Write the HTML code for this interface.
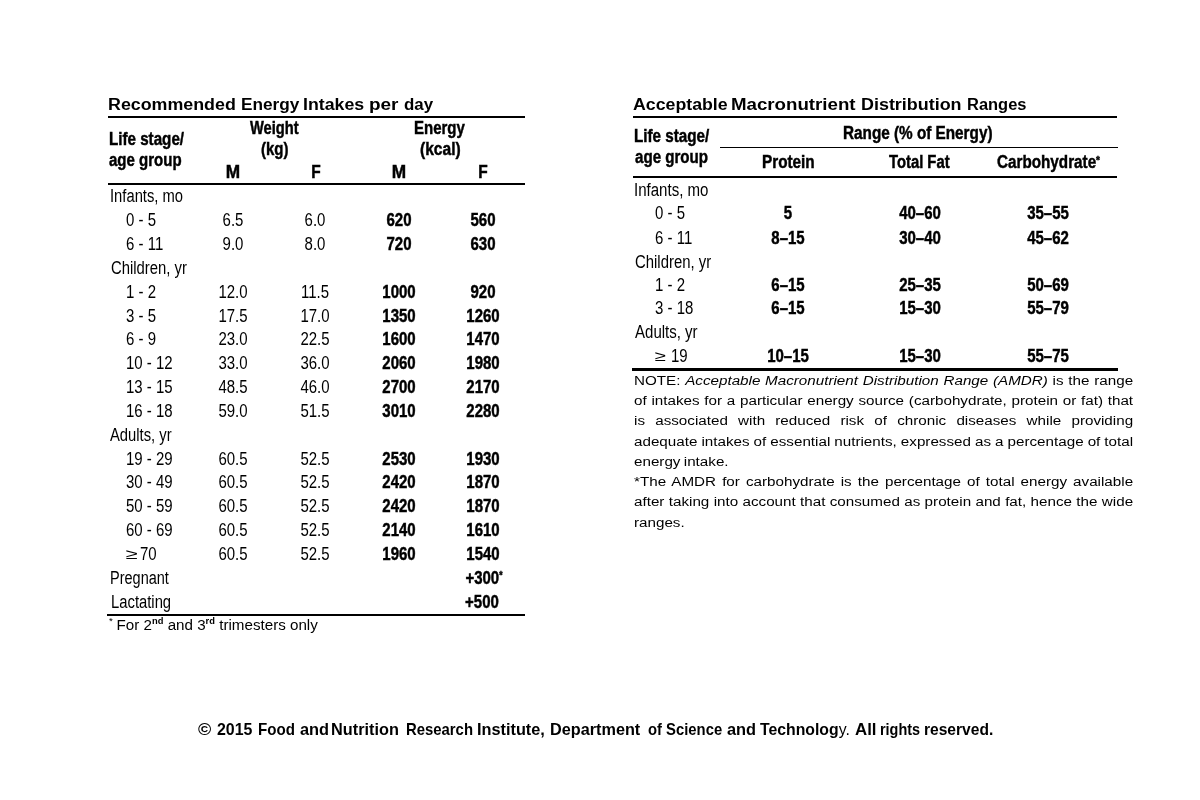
<!DOCTYPE html>
<html><head><meta charset="utf-8"><title>Recommended Energy Intakes</title>
<style>
html,body{margin:0;padding:0;background:#fff;}
body{width:1200px;height:800px;position:relative;overflow:hidden;font-family:"Liberation Sans",sans-serif;color:#000;}
#pg{position:absolute;left:0;top:0;width:1200px;height:800px;will-change:transform;}
.t{position:absolute;white-space:nowrap;}
.r{position:absolute;background:#000;}
.sup{font-size:8.5px;position:relative;top:-5.5px;font-weight:700;}
</style></head>
<body>
<div id="pg">
<div class="t" style="left:107.68px;top:94.56px;width:600px;font-size:16.0px;line-height:20.8px;text-align:left;transform:scaleX(1.1143);transform-origin:0 50%;font-weight:700;">Recommended</div>
<div class="t" style="left:240.91px;top:94.56px;width:600px;font-size:16.0px;line-height:20.8px;text-align:left;transform:scaleX(1.0766);transform-origin:0 50%;font-weight:700;">Energy</div>
<div class="t" style="left:302.68px;top:94.56px;width:600px;font-size:16.0px;line-height:20.8px;text-align:left;transform:scaleX(1.1083);transform-origin:0 50%;font-weight:700;">Intakes</div>
<div class="t" style="left:369.15px;top:94.56px;width:600px;font-size:16.0px;line-height:20.8px;text-align:left;transform:scaleX(1.1844);transform-origin:0 50%;font-weight:700;">per</div>
<div class="t" style="left:403.67px;top:94.56px;width:600px;font-size:16.0px;line-height:20.8px;text-align:left;transform:scaleX(1.0554);transform-origin:0 50%;font-weight:700;">day</div>
<div class="r" style="left:108px;top:115.9px;width:417.00px;height:2.5px"></div>
<div class="r" style="left:108px;top:182.8px;width:417.00px;height:2.4px"></div>
<div class="r" style="left:107px;top:613.6px;width:418.00px;height:2.4px"></div>
<div class="t" style="left:108.93px;top:127.96px;width:600px;font-size:17.6px;line-height:22.88px;text-align:left;transform:scaleX(0.8623);transform-origin:0 50%;font-weight:700;-webkit-text-stroke:0.45px #000;">Life stage/</div>
<div class="t" style="left:108.85px;top:148.96px;width:600px;font-size:17.6px;line-height:22.88px;text-align:left;transform:scaleX(0.8533);transform-origin:0 50%;font-weight:700;-webkit-text-stroke:0.45px #000;">age group</div>
<div class="t" style="left:249.58px;top:116.96px;width:600px;font-size:17.6px;line-height:22.88px;text-align:left;transform:scaleX(0.8342);transform-origin:0 50%;font-weight:700;-webkit-text-stroke:0.45px #000;">Weight</div>
<div class="t" style="left:261.35px;top:137.96px;width:600px;font-size:17.6px;line-height:22.88px;text-align:left;transform:scaleX(0.8503);transform-origin:0 50%;font-weight:700;-webkit-text-stroke:0.45px #000;">(kg)</div>
<div class="t" style="left:414.38px;top:116.96px;width:600px;font-size:17.6px;line-height:22.88px;text-align:left;transform:scaleX(0.8529);transform-origin:0 50%;font-weight:700;-webkit-text-stroke:0.45px #000;">Energy</div>
<div class="t" style="left:420.08px;top:137.96px;width:600px;font-size:17.6px;line-height:22.88px;text-align:left;transform:scaleX(0.8867);transform-origin:0 50%;font-weight:700;-webkit-text-stroke:0.45px #000;">(kcal)</div>
<div class="t" style="left:-67.40px;top:160.96px;width:600px;font-size:17.6px;line-height:22.88px;text-align:center;transform:scaleX(0.9800);transform-origin:50% 50%;font-weight:700;-webkit-text-stroke:0.45px #000;">M</div>
<div class="t" style="left:16.20px;top:160.96px;width:600px;font-size:17.6px;line-height:22.88px;text-align:center;transform:scaleX(0.8800);transform-origin:50% 50%;font-weight:700;-webkit-text-stroke:0.45px #000;">F</div>
<div class="t" style="left:99.20px;top:160.96px;width:600px;font-size:17.6px;line-height:22.88px;text-align:center;transform:scaleX(0.9800);transform-origin:50% 50%;font-weight:700;-webkit-text-stroke:0.45px #000;">M</div>
<div class="t" style="left:182.80px;top:160.96px;width:600px;font-size:17.6px;line-height:22.88px;text-align:center;transform:scaleX(0.8800);transform-origin:50% 50%;font-weight:700;-webkit-text-stroke:0.45px #000;">F</div>
<div class="t" style="left:110.04px;top:184.96px;width:600px;font-size:17.6px;line-height:22.88px;text-align:left;transform:scaleX(0.8393);transform-origin:0 50%;">Infants, mo</div>
<div class="t" style="left:126.40px;top:208.96px;width:600px;font-size:17.6px;line-height:22.88px;text-align:left;transform:scaleX(0.8520);transform-origin:0 50%;">0 - 5</div>
<div class="t" style="left:-67.50px;top:208.96px;width:600px;font-size:17.6px;line-height:22.88px;text-align:center;transform:scaleX(0.8520);transform-origin:50% 50%;">6.5</div>
<div class="t" style="left:15.00px;top:208.96px;width:600px;font-size:17.6px;line-height:22.88px;text-align:center;transform:scaleX(0.8520);transform-origin:50% 50%;">6.0</div>
<div class="t" style="left:98.90px;top:208.96px;width:600px;font-size:17.6px;line-height:22.88px;text-align:center;transform:scaleX(0.8520);transform-origin:50% 50%;font-weight:700;-webkit-text-stroke:0.45px #000;">620</div>
<div class="t" style="left:182.60px;top:208.96px;width:600px;font-size:17.6px;line-height:22.88px;text-align:center;transform:scaleX(0.8520);transform-origin:50% 50%;font-weight:700;-webkit-text-stroke:0.45px #000;">560</div>
<div class="t" style="left:126.40px;top:232.96px;width:600px;font-size:17.6px;line-height:22.88px;text-align:left;transform:scaleX(0.8520);transform-origin:0 50%;">6 - 11</div>
<div class="t" style="left:-67.50px;top:232.96px;width:600px;font-size:17.6px;line-height:22.88px;text-align:center;transform:scaleX(0.8520);transform-origin:50% 50%;">9.0</div>
<div class="t" style="left:15.00px;top:232.96px;width:600px;font-size:17.6px;line-height:22.88px;text-align:center;transform:scaleX(0.8520);transform-origin:50% 50%;">8.0</div>
<div class="t" style="left:98.90px;top:232.96px;width:600px;font-size:17.6px;line-height:22.88px;text-align:center;transform:scaleX(0.8520);transform-origin:50% 50%;font-weight:700;-webkit-text-stroke:0.45px #000;">720</div>
<div class="t" style="left:182.60px;top:232.96px;width:600px;font-size:17.6px;line-height:22.88px;text-align:center;transform:scaleX(0.8520);transform-origin:50% 50%;font-weight:700;-webkit-text-stroke:0.45px #000;">630</div>
<div class="t" style="left:110.67px;top:256.96px;width:600px;font-size:17.6px;line-height:22.88px;text-align:left;transform:scaleX(0.8445);transform-origin:0 50%;">Children, yr</div>
<div class="t" style="left:126.40px;top:280.96px;width:600px;font-size:17.6px;line-height:22.88px;text-align:left;transform:scaleX(0.8520);transform-origin:0 50%;">1 - 2</div>
<div class="t" style="left:-67.50px;top:280.96px;width:600px;font-size:17.6px;line-height:22.88px;text-align:center;transform:scaleX(0.8520);transform-origin:50% 50%;">12.0</div>
<div class="t" style="left:15.00px;top:280.96px;width:600px;font-size:17.6px;line-height:22.88px;text-align:center;transform:scaleX(0.8520);transform-origin:50% 50%;">11.5</div>
<div class="t" style="left:98.90px;top:280.96px;width:600px;font-size:17.6px;line-height:22.88px;text-align:center;transform:scaleX(0.8520);transform-origin:50% 50%;font-weight:700;-webkit-text-stroke:0.45px #000;">1000</div>
<div class="t" style="left:182.60px;top:280.96px;width:600px;font-size:17.6px;line-height:22.88px;text-align:center;transform:scaleX(0.8520);transform-origin:50% 50%;font-weight:700;-webkit-text-stroke:0.45px #000;">920</div>
<div class="t" style="left:126.40px;top:304.96px;width:600px;font-size:17.6px;line-height:22.88px;text-align:left;transform:scaleX(0.8520);transform-origin:0 50%;">3 - 5</div>
<div class="t" style="left:-67.50px;top:304.96px;width:600px;font-size:17.6px;line-height:22.88px;text-align:center;transform:scaleX(0.8520);transform-origin:50% 50%;">17.5</div>
<div class="t" style="left:15.00px;top:304.96px;width:600px;font-size:17.6px;line-height:22.88px;text-align:center;transform:scaleX(0.8520);transform-origin:50% 50%;">17.0</div>
<div class="t" style="left:98.90px;top:304.96px;width:600px;font-size:17.6px;line-height:22.88px;text-align:center;transform:scaleX(0.8520);transform-origin:50% 50%;font-weight:700;-webkit-text-stroke:0.45px #000;">1350</div>
<div class="t" style="left:182.60px;top:304.96px;width:600px;font-size:17.6px;line-height:22.88px;text-align:center;transform:scaleX(0.8520);transform-origin:50% 50%;font-weight:700;-webkit-text-stroke:0.45px #000;">1260</div>
<div class="t" style="left:126.40px;top:327.96px;width:600px;font-size:17.6px;line-height:22.88px;text-align:left;transform:scaleX(0.8520);transform-origin:0 50%;">6 - 9</div>
<div class="t" style="left:-67.50px;top:327.96px;width:600px;font-size:17.6px;line-height:22.88px;text-align:center;transform:scaleX(0.8520);transform-origin:50% 50%;">23.0</div>
<div class="t" style="left:15.00px;top:327.96px;width:600px;font-size:17.6px;line-height:22.88px;text-align:center;transform:scaleX(0.8520);transform-origin:50% 50%;">22.5</div>
<div class="t" style="left:98.90px;top:327.96px;width:600px;font-size:17.6px;line-height:22.88px;text-align:center;transform:scaleX(0.8520);transform-origin:50% 50%;font-weight:700;-webkit-text-stroke:0.45px #000;">1600</div>
<div class="t" style="left:182.60px;top:327.96px;width:600px;font-size:17.6px;line-height:22.88px;text-align:center;transform:scaleX(0.8520);transform-origin:50% 50%;font-weight:700;-webkit-text-stroke:0.45px #000;">1470</div>
<div class="t" style="left:126.40px;top:351.96px;width:600px;font-size:17.6px;line-height:22.88px;text-align:left;transform:scaleX(0.8520);transform-origin:0 50%;">10 - 12</div>
<div class="t" style="left:-67.50px;top:351.96px;width:600px;font-size:17.6px;line-height:22.88px;text-align:center;transform:scaleX(0.8520);transform-origin:50% 50%;">33.0</div>
<div class="t" style="left:15.00px;top:351.96px;width:600px;font-size:17.6px;line-height:22.88px;text-align:center;transform:scaleX(0.8520);transform-origin:50% 50%;">36.0</div>
<div class="t" style="left:98.90px;top:351.96px;width:600px;font-size:17.6px;line-height:22.88px;text-align:center;transform:scaleX(0.8520);transform-origin:50% 50%;font-weight:700;-webkit-text-stroke:0.45px #000;">2060</div>
<div class="t" style="left:182.60px;top:351.96px;width:600px;font-size:17.6px;line-height:22.88px;text-align:center;transform:scaleX(0.8520);transform-origin:50% 50%;font-weight:700;-webkit-text-stroke:0.45px #000;">1980</div>
<div class="t" style="left:126.40px;top:375.96px;width:600px;font-size:17.6px;line-height:22.88px;text-align:left;transform:scaleX(0.8520);transform-origin:0 50%;">13 - 15</div>
<div class="t" style="left:-67.50px;top:375.96px;width:600px;font-size:17.6px;line-height:22.88px;text-align:center;transform:scaleX(0.8520);transform-origin:50% 50%;">48.5</div>
<div class="t" style="left:15.00px;top:375.96px;width:600px;font-size:17.6px;line-height:22.88px;text-align:center;transform:scaleX(0.8520);transform-origin:50% 50%;">46.0</div>
<div class="t" style="left:98.90px;top:375.96px;width:600px;font-size:17.6px;line-height:22.88px;text-align:center;transform:scaleX(0.8520);transform-origin:50% 50%;font-weight:700;-webkit-text-stroke:0.45px #000;">2700</div>
<div class="t" style="left:182.60px;top:375.96px;width:600px;font-size:17.6px;line-height:22.88px;text-align:center;transform:scaleX(0.8520);transform-origin:50% 50%;font-weight:700;-webkit-text-stroke:0.45px #000;">2170</div>
<div class="t" style="left:126.40px;top:399.96px;width:600px;font-size:17.6px;line-height:22.88px;text-align:left;transform:scaleX(0.8520);transform-origin:0 50%;">16 - 18</div>
<div class="t" style="left:-67.50px;top:399.96px;width:600px;font-size:17.6px;line-height:22.88px;text-align:center;transform:scaleX(0.8520);transform-origin:50% 50%;">59.0</div>
<div class="t" style="left:15.00px;top:399.96px;width:600px;font-size:17.6px;line-height:22.88px;text-align:center;transform:scaleX(0.8520);transform-origin:50% 50%;">51.5</div>
<div class="t" style="left:98.90px;top:399.96px;width:600px;font-size:17.6px;line-height:22.88px;text-align:center;transform:scaleX(0.8520);transform-origin:50% 50%;font-weight:700;-webkit-text-stroke:0.45px #000;">3010</div>
<div class="t" style="left:182.60px;top:399.96px;width:600px;font-size:17.6px;line-height:22.88px;text-align:center;transform:scaleX(0.8520);transform-origin:50% 50%;font-weight:700;-webkit-text-stroke:0.45px #000;">2280</div>
<div class="t" style="left:110.00px;top:423.96px;width:600px;font-size:17.6px;line-height:22.88px;text-align:left;transform:scaleX(0.8408);transform-origin:0 50%;">Adults, yr</div>
<div class="t" style="left:126.40px;top:447.96px;width:600px;font-size:17.6px;line-height:22.88px;text-align:left;transform:scaleX(0.8520);transform-origin:0 50%;">19 - 29</div>
<div class="t" style="left:-67.50px;top:447.96px;width:600px;font-size:17.6px;line-height:22.88px;text-align:center;transform:scaleX(0.8520);transform-origin:50% 50%;">60.5</div>
<div class="t" style="left:15.00px;top:447.96px;width:600px;font-size:17.6px;line-height:22.88px;text-align:center;transform:scaleX(0.8520);transform-origin:50% 50%;">52.5</div>
<div class="t" style="left:98.90px;top:447.96px;width:600px;font-size:17.6px;line-height:22.88px;text-align:center;transform:scaleX(0.8520);transform-origin:50% 50%;font-weight:700;-webkit-text-stroke:0.45px #000;">2530</div>
<div class="t" style="left:182.60px;top:447.96px;width:600px;font-size:17.6px;line-height:22.88px;text-align:center;transform:scaleX(0.8520);transform-origin:50% 50%;font-weight:700;-webkit-text-stroke:0.45px #000;">1930</div>
<div class="t" style="left:126.40px;top:470.96px;width:600px;font-size:17.6px;line-height:22.88px;text-align:left;transform:scaleX(0.8520);transform-origin:0 50%;">30 - 49</div>
<div class="t" style="left:-67.50px;top:470.96px;width:600px;font-size:17.6px;line-height:22.88px;text-align:center;transform:scaleX(0.8520);transform-origin:50% 50%;">60.5</div>
<div class="t" style="left:15.00px;top:470.96px;width:600px;font-size:17.6px;line-height:22.88px;text-align:center;transform:scaleX(0.8520);transform-origin:50% 50%;">52.5</div>
<div class="t" style="left:98.90px;top:470.96px;width:600px;font-size:17.6px;line-height:22.88px;text-align:center;transform:scaleX(0.8520);transform-origin:50% 50%;font-weight:700;-webkit-text-stroke:0.45px #000;">2420</div>
<div class="t" style="left:182.60px;top:470.96px;width:600px;font-size:17.6px;line-height:22.88px;text-align:center;transform:scaleX(0.8520);transform-origin:50% 50%;font-weight:700;-webkit-text-stroke:0.45px #000;">1870</div>
<div class="t" style="left:126.40px;top:494.96px;width:600px;font-size:17.6px;line-height:22.88px;text-align:left;transform:scaleX(0.8520);transform-origin:0 50%;">50 - 59</div>
<div class="t" style="left:-67.50px;top:494.96px;width:600px;font-size:17.6px;line-height:22.88px;text-align:center;transform:scaleX(0.8520);transform-origin:50% 50%;">60.5</div>
<div class="t" style="left:15.00px;top:494.96px;width:600px;font-size:17.6px;line-height:22.88px;text-align:center;transform:scaleX(0.8520);transform-origin:50% 50%;">52.5</div>
<div class="t" style="left:98.90px;top:494.96px;width:600px;font-size:17.6px;line-height:22.88px;text-align:center;transform:scaleX(0.8520);transform-origin:50% 50%;font-weight:700;-webkit-text-stroke:0.45px #000;">2420</div>
<div class="t" style="left:182.60px;top:494.96px;width:600px;font-size:17.6px;line-height:22.88px;text-align:center;transform:scaleX(0.8520);transform-origin:50% 50%;font-weight:700;-webkit-text-stroke:0.45px #000;">1870</div>
<div class="t" style="left:126.40px;top:518.96px;width:600px;font-size:17.6px;line-height:22.88px;text-align:left;transform:scaleX(0.8520);transform-origin:0 50%;">60 - 69</div>
<div class="t" style="left:-67.50px;top:518.96px;width:600px;font-size:17.6px;line-height:22.88px;text-align:center;transform:scaleX(0.8520);transform-origin:50% 50%;">60.5</div>
<div class="t" style="left:15.00px;top:518.96px;width:600px;font-size:17.6px;line-height:22.88px;text-align:center;transform:scaleX(0.8520);transform-origin:50% 50%;">52.5</div>
<div class="t" style="left:98.90px;top:518.96px;width:600px;font-size:17.6px;line-height:22.88px;text-align:center;transform:scaleX(0.8520);transform-origin:50% 50%;font-weight:700;-webkit-text-stroke:0.45px #000;">2140</div>
<div class="t" style="left:182.60px;top:518.96px;width:600px;font-size:17.6px;line-height:22.88px;text-align:center;transform:scaleX(0.8520);transform-origin:50% 50%;font-weight:700;-webkit-text-stroke:0.45px #000;">1610</div>
<div class="t" style="left:125.60px;top:545.05px;width:600px;font-size:14.5px;line-height:18.85px;text-align:left;transform:scaleX(1.5000);transform-origin:0 50%;">≥</div>
<div class="t" style="left:140.00px;top:542.96px;width:600px;font-size:17.6px;line-height:22.88px;text-align:left;transform:scaleX(0.8520);transform-origin:0 50%;">70</div>
<div class="t" style="left:-67.50px;top:542.96px;width:600px;font-size:17.6px;line-height:22.88px;text-align:center;transform:scaleX(0.8520);transform-origin:50% 50%;">60.5</div>
<div class="t" style="left:15.00px;top:542.96px;width:600px;font-size:17.6px;line-height:22.88px;text-align:center;transform:scaleX(0.8520);transform-origin:50% 50%;">52.5</div>
<div class="t" style="left:98.90px;top:542.96px;width:600px;font-size:17.6px;line-height:22.88px;text-align:center;transform:scaleX(0.8520);transform-origin:50% 50%;font-weight:700;-webkit-text-stroke:0.45px #000;">1960</div>
<div class="t" style="left:182.60px;top:542.96px;width:600px;font-size:17.6px;line-height:22.88px;text-align:center;transform:scaleX(0.8520);transform-origin:50% 50%;font-weight:700;-webkit-text-stroke:0.45px #000;">1540</div>
<div class="t" style="left:110.01px;top:566.96px;width:600px;font-size:17.6px;line-height:22.88px;text-align:left;transform:scaleX(0.8244);transform-origin:0 50%;">Pregnant</div>
<div class="t" style="left:110.82px;top:590.96px;width:600px;font-size:17.6px;line-height:22.88px;text-align:left;transform:scaleX(0.8418);transform-origin:0 50%;">Lactating</div>
<div class="t" style="left:-66.30px;top:566.96px;width:1100px;font-size:17.6px;line-height:22.88px;text-align:center;transform:scaleX(0.8520);transform-origin:50% 50%;font-weight:700;-webkit-text-stroke:0.45px #000;">+300<span style='font-size:10px;position:relative;top:-5px'>*</span></div>
<div class="t" style="left:182.40px;top:590.96px;width:600px;font-size:17.6px;line-height:22.88px;text-align:center;transform:scaleX(0.8520);transform-origin:50% 50%;font-weight:700;-webkit-text-stroke:0.45px #000;">+500</div>
<div class="t" style="left:108.62px;top:616.75px;width:1100px;font-size:13.8px;line-height:17.94px;text-align:left;transform:scaleX(1.0997);transform-origin:0 50%;"><span style='font-size:9px;position:relative;top:-6px;margin-right:3.4px'>*</span>For 2<span class='sup'>nd</span> and 3<span class='sup'>rd</span> trimesters only</div>
<div class="t" style="left:633.39px;top:94.56px;width:600px;font-size:16.0px;line-height:20.8px;text-align:left;transform:scaleX(1.1088);transform-origin:0 50%;font-weight:700;">Acceptable</div>
<div class="t" style="left:731.35px;top:94.56px;width:600px;font-size:16.0px;line-height:20.8px;text-align:left;transform:scaleX(1.1675);transform-origin:0 50%;font-weight:700;">Macronutrient</div>
<div class="t" style="left:860.66px;top:94.56px;width:600px;font-size:16.0px;line-height:20.8px;text-align:left;transform:scaleX(1.1198);transform-origin:0 50%;font-weight:700;">Distribution</div>
<div class="t" style="left:967.19px;top:94.56px;width:600px;font-size:16.0px;line-height:20.8px;text-align:left;transform:scaleX(1.0284);transform-origin:0 50%;font-weight:700;">Ranges</div>
<div class="r" style="left:633.2px;top:115.9px;width:484.30px;height:2.5px"></div>
<div class="r" style="left:720px;top:146.8px;width:397.50px;height:1.1px"></div>
<div class="r" style="left:633.2px;top:176.0px;width:484.30px;height:2.4px"></div>
<div class="r" style="left:632px;top:368.2px;width:485.50px;height:2.4px"></div>
<div class="t" style="left:633.58px;top:124.96px;width:600px;font-size:17.6px;line-height:22.88px;text-align:left;transform:scaleX(0.8656);transform-origin:0 50%;font-weight:700;-webkit-text-stroke:0.45px #000;">Life stage/</div>
<div class="t" style="left:634.51px;top:145.96px;width:600px;font-size:17.6px;line-height:22.88px;text-align:left;transform:scaleX(0.8594);transform-origin:0 50%;font-weight:700;-webkit-text-stroke:0.45px #000;">age group</div>
<div class="t" style="left:843.08px;top:121.96px;width:600px;font-size:17.6px;line-height:22.88px;text-align:left;transform:scaleX(0.8689);transform-origin:0 50%;font-weight:700;-webkit-text-stroke:0.45px #000;">Range (% of Energy)</div>
<div class="t" style="left:761.88px;top:150.96px;width:600px;font-size:17.6px;line-height:22.88px;text-align:left;transform:scaleX(0.8694);transform-origin:0 50%;font-weight:700;-webkit-text-stroke:0.45px #000;">Protein</div>
<div class="t" style="left:889.44px;top:150.96px;width:600px;font-size:17.6px;line-height:22.88px;text-align:left;transform:scaleX(0.8413);transform-origin:0 50%;font-weight:700;-webkit-text-stroke:0.45px #000;">Total Fat</div>
<div class="t" style="left:996.63px;top:150.96px;width:1100px;font-size:17.6px;line-height:22.88px;text-align:left;transform:scaleX(0.8665);transform-origin:0 50%;font-weight:700;-webkit-text-stroke:0.45px #000;">Carbohydrate<span style='font-size:11.5px;position:relative;top:-4px'>*</span></div>
<div class="t" style="left:633.76px;top:178.96px;width:600px;font-size:17.6px;line-height:22.88px;text-align:left;transform:scaleX(0.8554);transform-origin:0 50%;">Infants, mo</div>
<div class="t" style="left:655.20px;top:201.96px;width:600px;font-size:17.6px;line-height:22.88px;text-align:left;transform:scaleX(0.8520);transform-origin:0 50%;">0 - 5</div>
<div class="t" style="left:488.00px;top:201.96px;width:600px;font-size:17.6px;line-height:22.88px;text-align:center;transform:scaleX(0.8520);transform-origin:50% 50%;font-weight:700;-webkit-text-stroke:0.45px #000;">5</div>
<div class="t" style="left:620.00px;top:201.96px;width:600px;font-size:17.6px;line-height:22.88px;text-align:center;transform:scaleX(0.8520);transform-origin:50% 50%;font-weight:700;-webkit-text-stroke:0.45px #000;">40–60</div>
<div class="t" style="left:748.30px;top:201.96px;width:600px;font-size:17.6px;line-height:22.88px;text-align:center;transform:scaleX(0.8520);transform-origin:50% 50%;font-weight:700;-webkit-text-stroke:0.45px #000;">35–55</div>
<div class="t" style="left:655.20px;top:226.96px;width:600px;font-size:17.6px;line-height:22.88px;text-align:left;transform:scaleX(0.8520);transform-origin:0 50%;">6 - 11</div>
<div class="t" style="left:488.00px;top:226.96px;width:600px;font-size:17.6px;line-height:22.88px;text-align:center;transform:scaleX(0.8520);transform-origin:50% 50%;font-weight:700;-webkit-text-stroke:0.45px #000;">8–15</div>
<div class="t" style="left:620.00px;top:226.96px;width:600px;font-size:17.6px;line-height:22.88px;text-align:center;transform:scaleX(0.8520);transform-origin:50% 50%;font-weight:700;-webkit-text-stroke:0.45px #000;">30–40</div>
<div class="t" style="left:748.30px;top:226.96px;width:600px;font-size:17.6px;line-height:22.88px;text-align:center;transform:scaleX(0.8520);transform-origin:50% 50%;font-weight:700;-webkit-text-stroke:0.45px #000;">45–62</div>
<div class="t" style="left:634.96px;top:250.96px;width:600px;font-size:17.6px;line-height:22.88px;text-align:left;transform:scaleX(0.8464);transform-origin:0 50%;">Children, yr</div>
<div class="t" style="left:655.20px;top:273.96px;width:600px;font-size:17.6px;line-height:22.88px;text-align:left;transform:scaleX(0.8520);transform-origin:0 50%;">1 - 2</div>
<div class="t" style="left:488.00px;top:273.96px;width:600px;font-size:17.6px;line-height:22.88px;text-align:center;transform:scaleX(0.8520);transform-origin:50% 50%;font-weight:700;-webkit-text-stroke:0.45px #000;">6–15</div>
<div class="t" style="left:620.00px;top:273.96px;width:600px;font-size:17.6px;line-height:22.88px;text-align:center;transform:scaleX(0.8520);transform-origin:50% 50%;font-weight:700;-webkit-text-stroke:0.45px #000;">25–35</div>
<div class="t" style="left:748.30px;top:273.96px;width:600px;font-size:17.6px;line-height:22.88px;text-align:center;transform:scaleX(0.8520);transform-origin:50% 50%;font-weight:700;-webkit-text-stroke:0.45px #000;">50–69</div>
<div class="t" style="left:655.20px;top:296.96px;width:600px;font-size:17.6px;line-height:22.88px;text-align:left;transform:scaleX(0.8520);transform-origin:0 50%;">3 - 18</div>
<div class="t" style="left:488.00px;top:296.96px;width:600px;font-size:17.6px;line-height:22.88px;text-align:center;transform:scaleX(0.8520);transform-origin:50% 50%;font-weight:700;-webkit-text-stroke:0.45px #000;">6–15</div>
<div class="t" style="left:620.00px;top:296.96px;width:600px;font-size:17.6px;line-height:22.88px;text-align:center;transform:scaleX(0.8520);transform-origin:50% 50%;font-weight:700;-webkit-text-stroke:0.45px #000;">15–30</div>
<div class="t" style="left:748.30px;top:296.96px;width:600px;font-size:17.6px;line-height:22.88px;text-align:center;transform:scaleX(0.8520);transform-origin:50% 50%;font-weight:700;-webkit-text-stroke:0.45px #000;">55–79</div>
<div class="t" style="left:634.79px;top:320.96px;width:600px;font-size:17.6px;line-height:22.88px;text-align:left;transform:scaleX(0.8540);transform-origin:0 50%;">Adults, yr</div>
<div class="t" style="left:655.20px;top:347.05px;width:600px;font-size:14.5px;line-height:18.85px;text-align:left;transform:scaleX(1.4000);transform-origin:0 50%;">≥</div>
<div class="t" style="left:670.60px;top:344.96px;width:600px;font-size:17.6px;line-height:22.88px;text-align:left;transform:scaleX(0.8520);transform-origin:0 50%;">19</div>
<div class="t" style="left:488.00px;top:344.96px;width:600px;font-size:17.6px;line-height:22.88px;text-align:center;transform:scaleX(0.8520);transform-origin:50% 50%;font-weight:700;-webkit-text-stroke:0.45px #000;">10–15</div>
<div class="t" style="left:620.00px;top:344.96px;width:600px;font-size:17.6px;line-height:22.88px;text-align:center;transform:scaleX(0.8520);transform-origin:50% 50%;font-weight:700;-webkit-text-stroke:0.45px #000;">15–30</div>
<div class="t" style="left:748.30px;top:344.96px;width:600px;font-size:17.6px;line-height:22.88px;text-align:center;transform:scaleX(0.8520);transform-origin:50% 50%;font-weight:700;-webkit-text-stroke:0.45px #000;">55–75</div>
<div class="t" style="left:634.2px;top:371.85px;width:449.64px;font-size:13.7px;line-height:17.81px;transform:scaleX(1.11);transform-origin:0 50%;word-spacing:-0.8px;text-align:justify;text-align-last:justify;">NOTE: <i>Acceptable Macronutrient Distribution Range (AMDR)</i> is the range</div>
<div class="t" style="left:634.2px;top:391.85px;width:449.64px;font-size:13.7px;line-height:17.81px;transform:scaleX(1.11);transform-origin:0 50%;word-spacing:-0.8px;text-align:justify;text-align-last:justify;">of intakes for a particular energy source (carbohydrate, protein or fat) that</div>
<div class="t" style="left:634.2px;top:411.85px;width:449.64px;font-size:13.7px;line-height:17.81px;transform:scaleX(1.11);transform-origin:0 50%;word-spacing:-0.8px;text-align:justify;text-align-last:justify;">is associated with reduced risk of chronic diseases while providing</div>
<div class="t" style="left:634.2px;top:432.85px;width:449.64px;font-size:13.7px;line-height:17.81px;transform:scaleX(1.11);transform-origin:0 50%;word-spacing:-0.8px;text-align:justify;text-align-last:justify;">adequate intakes of essential nutrients, expressed as a percentage of total</div>
<div class="t" style="left:634.2px;top:452.85px;width:449.64px;font-size:13.7px;line-height:17.81px;transform:scaleX(1.11);transform-origin:0 50%;word-spacing:-0.8px;">energy intake.</div>
<div class="t" style="left:634.2px;top:472.85px;width:449.64px;font-size:13.7px;line-height:17.81px;transform:scaleX(1.11);transform-origin:0 50%;word-spacing:-0.8px;text-align:justify;text-align-last:justify;">*The AMDR for carbohydrate is the percentage of total energy available</div>
<div class="t" style="left:634.2px;top:492.85px;width:449.64px;font-size:13.7px;line-height:17.81px;transform:scaleX(1.11);transform-origin:0 50%;word-spacing:-0.8px;text-align:justify;text-align-last:justify;">after taking into account that consumed as protein and fat, hence the wide</div>
<div class="t" style="left:634.2px;top:513.85px;width:449.64px;font-size:13.7px;line-height:17.81px;transform:scaleX(1.11);transform-origin:0 50%;word-spacing:-0.8px;">ranges.</div>
<div class="t" style="left:198.05px;top:719.36px;width:600px;font-size:16.2px;line-height:21.06px;text-align:left;transform:scaleX(1.1089);transform-origin:0 50%;font-weight:700;">©</div>
<div class="t" style="left:216.66px;top:719.36px;width:600px;font-size:16.2px;line-height:21.06px;text-align:left;transform:scaleX(0.9837);transform-origin:0 50%;font-weight:700;">2015</div>
<div class="t" style="left:258.15px;top:719.36px;width:600px;font-size:16.2px;line-height:21.06px;text-align:left;transform:scaleX(0.9350);transform-origin:0 50%;font-weight:700;">Food</div>
<div class="t" style="left:300.05px;top:719.36px;width:600px;font-size:16.2px;line-height:21.06px;text-align:left;transform:scaleX(1.0109);transform-origin:0 50%;font-weight:700;">and</div>
<div class="t" style="left:331.41px;top:719.36px;width:600px;font-size:16.2px;line-height:21.06px;text-align:left;transform:scaleX(1.0060);transform-origin:0 50%;font-weight:700;">Nutrition</div>
<div class="t" style="left:405.67px;top:719.36px;width:600px;font-size:16.2px;line-height:21.06px;text-align:left;transform:scaleX(0.9187);transform-origin:0 50%;font-weight:700;">Research</div>
<div class="t" style="left:476.92px;top:719.36px;width:600px;font-size:16.2px;line-height:21.06px;text-align:left;transform:scaleX(1.0058);transform-origin:0 50%;font-weight:700;">Institute,</div>
<div class="t" style="left:550.18px;top:719.36px;width:600px;font-size:16.2px;line-height:21.06px;text-align:left;transform:scaleX(1.0034);transform-origin:0 50%;font-weight:700;">Department</div>
<div class="t" style="left:648.03px;top:719.36px;width:600px;font-size:16.2px;line-height:21.06px;text-align:left;transform:scaleX(0.9154);transform-origin:0 50%;font-weight:700;">of Science</div>
<div class="t" style="left:727.43px;top:719.36px;width:600px;font-size:16.2px;line-height:21.06px;text-align:left;transform:scaleX(1.0112);transform-origin:0 50%;font-weight:700;">and</div>
<div class="t" style="left:759.80px;top:719.36px;width:600px;font-size:16.2px;line-height:21.06px;text-align:left;transform:scaleX(0.9754);transform-origin:0 50%;font-weight:700;">Technolog<span style='font-weight:400'>y.</span></div>
<div class="t" style="left:855.17px;top:719.36px;width:600px;font-size:16.2px;line-height:21.06px;text-align:left;transform:scaleX(1.0404);transform-origin:0 50%;font-weight:700;">All</div>
<div class="t" style="left:880.16px;top:719.36px;width:600px;font-size:16.2px;line-height:21.06px;text-align:left;transform:scaleX(0.8914);transform-origin:0 50%;font-weight:700;">rights</div>
<div class="t" style="left:924.18px;top:719.36px;width:600px;font-size:16.2px;line-height:21.06px;text-align:left;transform:scaleX(0.9615);transform-origin:0 50%;font-weight:700;">reserved.</div>
</div>
</body></html>
